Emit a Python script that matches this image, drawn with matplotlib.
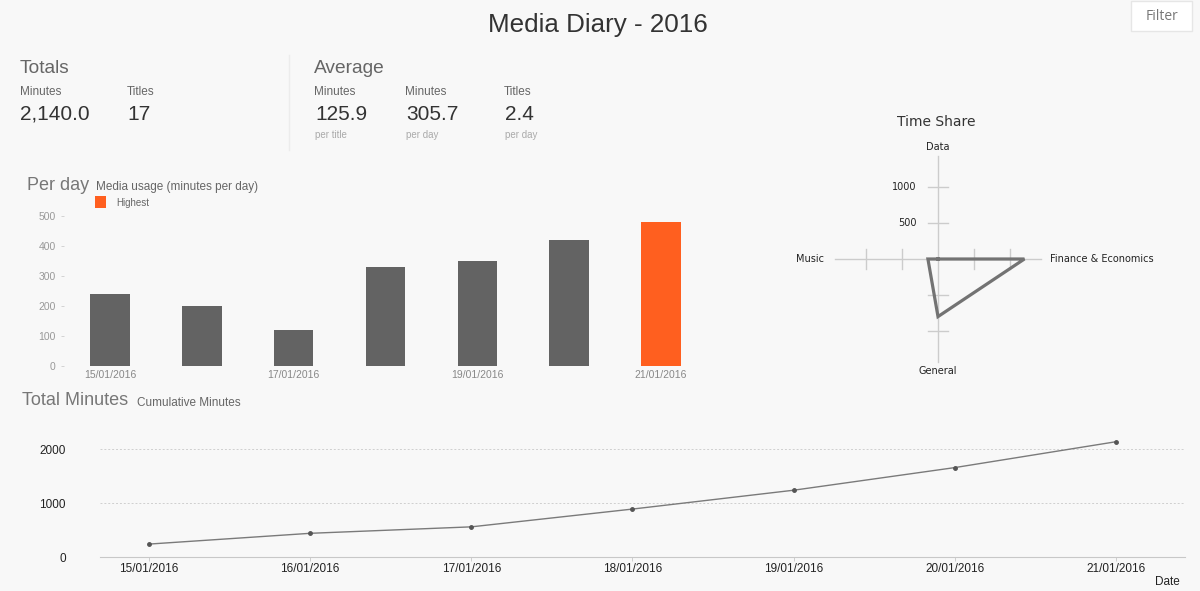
import matplotlib
matplotlib.use("Agg")
import matplotlib.pyplot as plt
from matplotlib.patches import Rectangle

# ---------------- data ----------------
dates = ["15/01/2016", "16/01/2016", "17/01/2016", "18/01/2016",
         "19/01/2016", "20/01/2016", "21/01/2016"]
minutes_per_day = [240, 200, 120, 330, 350, 420, 480]
cumulative_minutes = [240, 440, 560, 890, 1240, 1660, 2140]
radar_categories = ["Data", "Finance & Economics", "General", "Music"]
radar_values = [0, 1200, 800, 140]
radar_ticks = [500, 1000]
bar_yticks = [0, 100, 200, 300, 400, 500]
line_yticks = [0, 1000, 2000]

totals_labels = ["Minutes", "Titles"]
totals_values = ["2,140.0", "17"]
avg_labels = ["Minutes", "Minutes", "Titles"]
avg_values = ["125.9", "305.7", "2.4"]
avg_units = ["per title", "per day", "per day"]

BG = "#f8f8f8"
W, H = 1200, 591
plt.rcParams['font.family'] = ['Liberation Sans', 'DejaVu Sans']

fig = plt.figure(figsize=(12, 5.91), dpi=100, facecolor=BG)

def fx(px):
    return px / W

def fy(py):
    return 1 - py / H

def T(x, y, s, fontsize=10, **kw):
    off = 0.2 * fontsize
    fig.text(fx(x), fy(y + off), s, fontsize=fontsize, **kw)

# ---------------- header ----------------
T(598, 21, "Media Diary - 2016", fontsize=18.7, color="#333333", ha="center", va="center")
fig.patches.append(Rectangle((fx(1131), fy(31)), fx(61), 30 / H, transform=fig.transFigure,
                             facecolor="white", edgecolor="#e6e6e6", lw=1))
T(1162, 15, "Filter", fontsize=10, color="#777777", ha="center", va="center", family="Open Sans")

# ---------------- KPI ----------------
T(20, 66, "Totals", fontsize=13.8, color="#666666", va="center")
for x, lab, val in zip([20, 127], totals_labels, totals_values):
    T(x, 90, lab, fontsize=8.5, color="#666666", va="center")
    T(x, 111, val, fontsize=15, color="#333333", va="center")
fig.add_artist(plt.Line2D([fx(289), fx(289)], [fy(55), fy(150)], color="#ececec", lw=1,
                          transform=fig.transFigure))
T(314, 66, "Average", fontsize=13.8, color="#666666", va="center")
for x, lab, val, u in zip([314, 405, 504], avg_labels, avg_values, avg_units):
    T(x, 90, lab, fontsize=8.5, color="#666666", va="center")
    T(x + 1, 111, val, fontsize=15, color="#333333", va="center")
    T(x + 1, 134, u, fontsize=7, color="#aaaaaa", va="center")

# ---------------- bar chart ----------------
T(27, 183, "Per day", fontsize=13, color="#777777", va="center")
T(96, 185, "Media usage (minutes per day)", fontsize=8.5, color="#666666", va="center")
fig.patches.append(Rectangle((fx(95), fy(208)), fx(11), 12 / H, transform=fig.transFigure,
                             facecolor="#ff5f1f", edgecolor="none"))
T(116, 202, "Highest", fontsize=7, color="#666666", va="center")

axb = fig.add_axes([fx(64), fy(366), fx(643), 156 / H])
axb.set_facecolor(BG)
idx = list(range(len(dates)))
mx = max(minutes_per_day)
colors = ["#ff5f1f" if v == mx else "#636363" for v in minutes_per_day]
axb.bar(idx, minutes_per_day, width=0.43, color=colors, edgecolor="none")
axb.set_xlim(-0.5, len(dates) - 0.5)
axb.set_ylim(0, 520)
for s in axb.spines.values():
    s.set_visible(False)
axb.set_yticks(bar_yticks)
axb.set_yticklabels([str(t) for t in bar_yticks])
axb.tick_params(axis="y", length=2, width=0.6, color="#cccccc", labelsize=7.5, labelcolor="#999999", pad=4)
axb.set_xticks(idx[::2])
axb.set_xticklabels(dates[::2])
axb.tick_params(axis="x", length=0, labelsize=7.5, labelcolor="#888888", pad=3)

# ---------------- radar ----------------
T(936, 120, "Time Share", fontsize=10, color="#333333", ha="center", va="center", family="DejaVu Sans")
scale = 0.072  # px per unit
rx0, rx1, ry0, ry1 = 780, 1100, 135, 385
cx, cy = 938, 259
axr = fig.add_axes([fx(rx0), fy(ry1), fx(rx1 - rx0), (ry1 - ry0) / H])
axr.set_xlim(-(cx - rx0) / scale, (rx1 - cx) / scale)
axr.set_ylim(-(ry1 - cy) / scale, (cy - ry0) / scale)
axr.axis("off")
R = 1430
dirs = {"Data": (0, 1), "Finance & Economics": (1, 0), "General": (0, -1), "Music": (-1, 0)}
tick_half = 140
for cat in radar_categories:
    dx, dy = dirs[cat]
    axr.plot([0, dx * R], [0, dy * R], color="#cccccc", lw=1, zorder=1)
    for t in radar_ticks:
        px, py = dx * t, dy * t
        axr.plot([px - dy * tick_half, px + dy * tick_half],
                 [py - dx * tick_half, py + dx * tick_half], color="#cccccc", lw=1, zorder=1)
for t in radar_ticks:
    axr.text(-300, t, str(t), fontsize=7, ha="right", va="center", color="#222222", family="DejaVu Sans")
lab_pos = {"Data": (0, 1555, "center", "center"),
           "Finance & Economics": (1550, 0, "left", "center"),
           "General": (0, -1555, "center", "center"),
           "Music": (-1778, 0, "center", "center")}
for cat in radar_categories:
    x, y, ha, va = lab_pos[cat]
    axr.text(x, y, cat, fontsize=7, ha=ha, va=va, color="#222222", family="DejaVu Sans")
px = [dirs[c][0] * v for c, v in zip(radar_categories, radar_values)]
py = [dirs[c][1] * v for c, v in zip(radar_categories, radar_values)]
px.append(px[0]); py.append(py[0])
axr.plot(px, py, color="#737373", lw=2.3, zorder=3, solid_joinstyle="miter")

# ---------------- line chart ----------------
T(22, 398, "Total Minutes", fontsize=13, color="#777777", va="center")
T(137, 401, "Cumulative Minutes", fontsize=8.5, color="#666666", va="center")
axl = fig.add_axes([fx(100), fy(557), fx(1085), 140 / H])
axl.set_facecolor(BG)
axl.plot(idx, cumulative_minutes, color="#7a7a7a", lw=1, marker="o", markersize=2.5,
         markerfacecolor="#555555", markeredgecolor="#555555")
axl.set_xlim(-0.305, 6.43)
axl.set_ylim(0, 2600)
for k in ["top", "right", "left"]:
    axl.spines[k].set_visible(False)
axl.spines["bottom"].set_color("#c8c8c8")
axl.set_yticks(line_yticks)
axl.set_yticklabels([str(t) for t in line_yticks])
axl.tick_params(axis="y", length=0, labelsize=8.5, labelcolor="#222222", pad=24.5)
for t in line_yticks[1:]:
    axl.axhline(t, color="#cfcfcf", lw=0.7, ls=(0, (2, 2)), zorder=0)
axl.set_xticks(idx)
axl.set_xticklabels(dates)
axl.tick_params(axis="x", length=3, width=0.6, color="#c8c8c8", labelsize=8.5, labelcolor="#222222", pad=1)
T(1167, 580, "Date", fontsize=8.5, color="#222222", ha="center", va="center")

fig.savefig("out.png", dpi=100, facecolor=BG)
